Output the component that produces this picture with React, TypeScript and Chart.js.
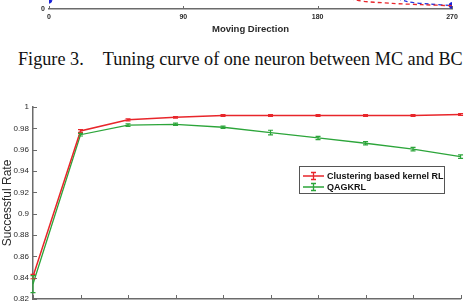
import React, { useEffect, useRef } from 'react';
import { Chart, registerables } from 'chart.js';

Chart.register(...registerables);

// ---------- main chart data ----------
const iterations = ['1', '2', '3', '4', '5', '6', '7', '8', '9', '10'];
const clusteringRate = [0.841, 0.9775, 0.988, 0.9903, 0.992, 0.992, 0.992, 0.992, 0.992, 0.993];
const clusteringErr = [0.002, 0.0012, 0.001, 0.0008, 0.0008, 0.0008, 0.0008, 0.0008, 0.0008, 0.0008];
const qagkrlRate = [0.834, 0.974, 0.983, 0.9838, 0.981, 0.976, 0.971, 0.966, 0.9605, 0.9535];
const qagkrlErr = [0.008, 0.0012, 0.0012, 0.001, 0.001, 0.0022, 0.0015, 0.0016, 0.0016, 0.0016];
const yTickValues = [0.82, 0.84, 0.86, 0.88, 0.9, 0.92, 0.94, 0.96, 0.98, 1];
const seriesNames = ['Clustering based kernel RL', 'QAGKRL'];

// ---------- top (previous figure) fragment data ----------
const directionTicks = [0, 90, 180, 270];
const mcDirections = [180, 205, 230, 250, 270];
const mcCurve = [0.16, 0.062, 0.038, 0.029, 0.022];
const bcDirections = [220, 240, 255, 270];
const bcCurve = [0.12, 0.05, 0.033, 0.024];
const bcPointDirections = [0, 270];
const bcPointValues = [0.058, 0.024];

const RED = '#e8262b';
const GREEN = '#2ca53a';
const AXIS = '#6b6b6b';
const TEXT = '#2a2a2a';
const SANS = '"Liberation Sans", Arial, Helvetica, sans-serif';

const inwardTicks = {
  id: 'inwardTicks',
  afterDatasetsDraw(chart: any, _args: any, opts: any) {
    const { ctx } = chart;
    const len = opts.length ?? 4;
    ctx.save();
    ctx.strokeStyle = opts.color || AXIS;
    ctx.lineWidth = 1;
    const xs = chart.scales.x;
    const ys = chart.scales.y;
    if (opts.x) {
      xs.ticks.forEach((_t: any, i: number) => {
        const px = Math.round(xs.getPixelForTick(i)) + 0.5;
        ctx.beginPath();
        ctx.moveTo(px, xs.top);
        ctx.lineTo(px, xs.top - len);
        ctx.stroke();
      });
    }
    if (opts.y) {
      ys.ticks.forEach((_t: any, i: number) => {
        const py = Math.round(ys.getPixelForTick(i)) + 0.5;
        ctx.beginPath();
        ctx.moveTo(ys.right, py);
        ctx.lineTo(ys.right + len, py);
        ctx.stroke();
      });
    }
    ctx.restore();
  },
};

const errorBars = {
  id: 'errorBars',
  afterDatasetsDraw(chart: any, _args: any, opts: any) {
    const { ctx } = chart;
    const ys = chart.scales.y;
    const cap = opts.cap ?? 2.5;
    chart.data.datasets.forEach((ds: any, di: number) => {
      const errs = opts.errors[di];
      if (!errs) return;
      const meta = chart.getDatasetMeta(di);
      ctx.save();
      ctx.strokeStyle = ds.borderColor;
      ctx.lineWidth = 1.2;
      meta.data.forEach((pt: any, i: number) => {
        const v = ds.data[i];
        const e = errs[i];
        const top = ys.getPixelForValue(v + e);
        const bot = ys.getPixelForValue(v - e);
        const x = pt.x;
        ctx.beginPath();
        ctx.moveTo(x, top);
        ctx.lineTo(x, bot);
        ctx.moveTo(x - cap, top);
        ctx.lineTo(x + cap, top);
        ctx.moveTo(x - cap, bot);
        ctx.lineTo(x + cap, bot);
        ctx.stroke();
      });
      ctx.restore();
    });
  },
};

const boxLegend = {
  id: 'boxLegend',
  afterDraw(chart: any, _args: any, opts: any) {
    const { ctx, chartArea } = chart;
    const x0 = chartArea.left + opts.dx;
    const y0 = chartArea.top + opts.dy;
    const w = opts.width;
    const h = opts.height;
    ctx.save();
    ctx.fillStyle = '#ffffff';
    ctx.fillRect(x0, y0, w, h);
    ctx.strokeStyle = '#555555';
    ctx.lineWidth = 1;
    ctx.strokeRect(x0 + 0.5, y0 + 0.5, w, h);
    ctx.font = opts.font;
    ctx.textBaseline = 'middle';
    ctx.textAlign = 'left';
    chart.data.datasets.forEach((ds: any, i: number) => {
      const cy = y0 + opts.rowTop + i * opts.rowGap;
      ctx.strokeStyle = ds.borderColor;
      ctx.lineWidth = 1.3;
      ctx.beginPath();
      ctx.moveTo(x0 + 4, cy);
      ctx.lineTo(x0 + 25, cy);
      const mx = x0 + 14.5;
      ctx.moveTo(mx, cy - 3.5);
      ctx.lineTo(mx, cy + 3.5);
      ctx.moveTo(mx - 2.5, cy - 3.5);
      ctx.lineTo(mx + 2.5, cy - 3.5);
      ctx.moveTo(mx - 2.5, cy + 3.5);
      ctx.lineTo(mx + 2.5, cy + 3.5);
      ctx.stroke();
      ctx.fillStyle = '#111111';
      ctx.fillText(ds.label, x0 + 28, cy + 0.5);
    });
    ctx.restore();
  },
};

function MainChart() {
  const ref = useRef<HTMLCanvasElement>(null);
  useEffect(() => {
    if (!ref.current) return;
    const chart = new Chart(ref.current, {
      type: 'line',
      data: {
        labels: iterations,
        datasets: [
          {
            label: seriesNames[0],
            data: clusteringRate,
            borderColor: RED,
            backgroundColor: RED,
            borderWidth: 1.5,
            pointRadius: 0,
            tension: 0,
          },
          {
            label: seriesNames[1],
            data: qagkrlRate,
            borderColor: GREEN,
            backgroundColor: GREEN,
            borderWidth: 1.3,
            pointRadius: 0,
            tension: 0,
          },
        ],
      },
      options: {
        animation: false,
        responsive: false,
        maintainAspectRatio: false,
        layout: { padding: { top: 12, right: 4, bottom: 6, left: 0 } },
        plugins: {
          legend: { display: false },
          tooltip: { enabled: false },
          inwardTicks: { x: true, y: true, length: 4, color: AXIS },
          errorBars: { errors: [clusteringErr, qagkrlErr], cap: 2.5 },
          boxLegend: {
            dx: 266,
            dy: 59,
            width: 145,
            height: 27,
            rowTop: 10,
            rowGap: 11,
            font: `bold 9px ${SANS}`,
          },
        } as any,
        scales: {
          x: {
            type: 'category',
            offset: false,
            grid: { display: false, drawTicks: false },
            border: { display: true, color: AXIS, width: 1.5 },
            ticks: { color: TEXT, font: { family: SANS, size: 8 }, padding: 9, maxRotation: 0 },
            afterFit: (s: any) => {
              s.height = 30;
            },
          },
          y: {
            type: 'linear',
            min: 0.82,
            max: 1,
            grid: { display: false, drawTicks: false },
            border: { display: true, color: AXIS, width: 1.5 },
            afterBuildTicks: (s: any) => {
              s.ticks = yTickValues.map((v) => ({ value: v }));
            },
            ticks: {
              color: TEXT,
              font: { family: SANS, size: 8 },
              padding: 4,
              callback: (v: any) => String(Number(Number(v).toFixed(2))),
            },
            title: {
              display: true,
              text: 'Successful Rate',
              color: TEXT,
              font: { family: SANS, size: 12 },
              padding: 0,
            },
            afterFit: (s: any) => {
              s.width = 33;
            },
          },
        },
      },
      plugins: [inwardTicks, errorBars, boxLegend],
    } as any);
    return () => chart.destroy();
  }, []);
  return (
    <canvas
      ref={ref}
      width={474}
      height={240}
      style={{ position: 'absolute', left: 0, top: 95, width: 474, height: 240 }}
    />
  );
}

function TopFragment() {
  const ref = useRef<HTMLCanvasElement>(null);
  useEffect(() => {
    if (!ref.current) return;
    const chart = new Chart(ref.current, {
      type: 'line',
      data: {
        datasets: [
          {
            label: 'MC',
            data: mcDirections.map((d, i) => ({ x: d, y: mcCurve[i] })),
            borderColor: '#e8262b',
            borderWidth: 1.3,
            borderDash: [4, 3],
            pointRadius: 0,
            tension: 0.3,
          },
          {
            label: 'BC',
            data: bcDirections.map((d, i) => ({ x: d, y: bcCurve[i] })),
            borderColor: '#2233dd',
            borderWidth: 1.3,
            borderDash: [4, 3],
            pointRadius: 0,
            tension: 0.3,
          },
          {
            label: 'BC points',
            data: bcPointDirections.map((d, i) => ({ x: d, y: bcPointValues[i] })),
            borderColor: '#1a22d8',
            backgroundColor: '#1a22d8',
            showLine: false,
            pointRadius: 2.8,
          },
        ],
      },
      options: {
        animation: false,
        responsive: false,
        maintainAspectRatio: false,
        layout: { padding: { top: 10, right: 22, bottom: 0, left: 0 } },
        plugins: {
          legend: { display: false },
          tooltip: { enabled: false },
          inwardTicks: { x: true, y: false, length: 3, color: AXIS },
        } as any,
        scales: {
          x: {
            type: 'linear',
            min: 0,
            max: 270,
            grid: { display: false, drawTicks: false },
            border: { display: true, color: AXIS, width: 1.5 },
            afterBuildTicks: (s: any) => {
              s.ticks = directionTicks.map((v) => ({ value: v }));
            },
            ticks: { color: TEXT, font: { family: SANS, size: 7, weight: 'bold' }, padding: 4, maxRotation: 0 },
            title: {
              display: true,
              text: 'Moving Direction',
              color: TEXT,
              font: { family: SANS, size: 9.5, weight: 'bold' },
              padding: { top: 0, bottom: 5 },
            },
            afterFit: (s: any) => {
              s.height = 31;
            },
          },
          y: {
            type: 'linear',
            min: 0,
            max: 1,
            grid: { display: false, drawTicks: false },
            border: { display: false },
            ticks: { color: TEXT, font: { family: SANS, size: 7, weight: 'bold' }, padding: 4, stepSize: 0.2 },
            afterFit: (s: any) => {
              s.width = 49;
            },
          },
        },
      },
      plugins: [inwardTicks],
    } as any);
    return () => chart.destroy();
  }, []);
  return (
    <canvas
      ref={ref}
      width={474}
      height={190}
      style={{ position: 'absolute', left: 0, top: -150, width: 474, height: 190 }}
    />
  );
}

export default function App() {
  useEffect(() => {
    document.body.style.margin = '0';
    document.body.style.background = '#ffffff';
  }, []);
  return (
    <div
      style={{
        position: 'relative',
        width: 474,
        height: 304,
        overflow: 'hidden',
        background: '#ffffff',
      }}
    >
      <TopFragment />
      <div
        style={{
          position: 'absolute',
          left: 18,
          top: 50,
          fontFamily: '"Liberation Serif", "Times New Roman", serif',
          fontSize: 18.2,
          lineHeight: '18.5px',
          color: '#111111',
          whiteSpace: 'nowrap',
        }}
      >
        <span>Figure 3.</span>
        <span style={{ marginLeft: 19 }}>Tuning curve of one neuron between MC and BC</span>
      </div>
      <MainChart />
    </div>
  );
}
